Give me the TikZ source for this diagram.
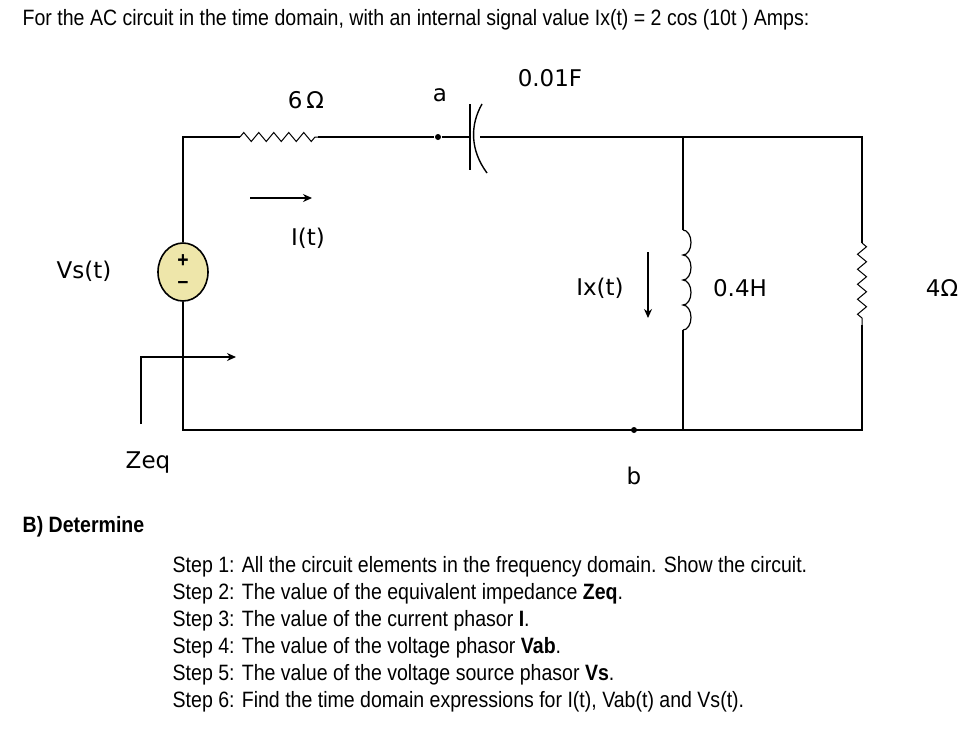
\documentclass[tikz,border=0pt]{standalone}
\usepackage{fontspec}
\setmainfont{Liberation Sans}[FakeStretch=0.88]
\newfontfamily\lblfont{DejaVu Sans}
\usetikzlibrary{decorations.pathmorphing,arrows.meta,shapes.geometric}
\begin{document}
\begin{tikzpicture}[x=1pt,y=-1pt,line width=1.4pt,
  lbl/.style={font=\lblfont\fontsize{23}{24}\selectfont,inner sep=0},
  txt/.style={font=\fontsize{22.2}{27}\selectfont,anchor=west,inner sep=0},
  zz/.style={decorate,decoration={zigzag,segment length=15pt,amplitude=4.5pt}},
  arr/.style={line width=1.4pt,-{Stealth[length=9pt,width=8pt]}},
  dot/.style={circle,fill=black,inner sep=0,minimum size=6pt}]
\useasboundingbox (0,0) rectangle (968,734);
\fill[white] (0,0) rectangle (968,734);
\node[txt] (title) at (22,20) {For the AC circuit in the time domain, with an internal signal value Ix(t) = 2 cos (10t ) Amps:};
% coordinates
\coordinate (tl) at (183,137);
\coordinate (bl) at (183,430);
\coordinate (tm) at (683,137);
\coordinate (bm) at (683,430);
\coordinate (tr) at (862,137);
\coordinate (br) at (862,430);
\coordinate (r2a) at (862,243);
\coordinate (r2b) at (862,325);
\coordinate (r1a) at (240,137);
\coordinate (r1b) at (318,137);
\node[dot] (a) at (438,137) {};
\node[dot] (b) at (634,430) {};
\coordinate (c1) at (470,137);
\coordinate (c2) at (480,137);
\node[draw,ellipse,fill={rgb,255:red,238;green,230;blue,170},line width=1.6pt,minimum width=50pt,minimum height=58pt,inner sep=0] (vs) at (183,272) {};
\node[font=\fontsize{22}{22}\selectfont\bfseries] (plus) at (183,261) {+};
\node[font=\fontsize{22}{22}\selectfont\bfseries] (minus) at (183,285) {--};
% wires
\draw (vs.north) -- (tl) -- (r1a);
\draw[zz,line width=1pt] (r1a) -- (r1b);
\draw (r1b) -- (a) -- (c1);
\draw (470,104) -- (470,170);
\draw (c2) -- (tr) -- (r2a);
\draw (482,104) .. controls (470,125) and (470,150) .. (487,173);
\draw[zz,line width=1pt] (r2a) -- (r2b);
\draw (r2b) -- (br) -- (bl) -- (vs.south);
\draw (tm) -- (683,230);
\draw (683,330) -- (bm);
\draw[line width=1.2pt] (683,230) arc (-90:90:8 and 12.5) arc (-90:90:8 and 12.5) arc (-90:90:8 and 12.5) arc (-90:90:8 and 12.5);
% arrows
\coordinate (ia) at (250,198); \coordinate (ib) at (312,198);
\draw[arr] (ia) -- (ib);
\coordinate (xa) at (648,252); \coordinate (xb) at (648,318);
\draw[arr] (xa) -- (xb);
\coordinate (z0) at (141,424); \coordinate (z1) at (141,357); \coordinate (z2) at (236,357);
\draw[arr] (z0) -- (z1) -- (z2);
% labels
\node[lbl] (l6) at (306,100) {6\,Ω};
\node[lbl] (la) at (440,95) {a};
\node[lbl] (lc) at (550,78) {0.01F};
\node[lbl] (lI) at (308,238) {I(t)};
\node[lbl] (lvs) at (84,271) {Vs(t)};
\node[lbl] (lix) at (600,288) {Ix(t)};
\node[lbl] (lL) at (740,288) {0.4H};
\node[lbl] (lR) at (942,288) {4Ω};
\node[lbl] (lz) at (148,462) {Zeq};
\node[lbl] (lb) at (634,476) {b};
% text
\node[txt] (bd) at (22,527) {\bfseries B) Determine};
\node[txt,align=left,anchor=north west] (steps) at (172,556) {Step 1: All the circuit elements in the frequency domain. Show the circuit.\\
Step 2: The value of the equivalent impedance \textbf{Zeq}.\\
Step 3: The value of the current phasor \textbf{I}.\\
Step 4: The value of the voltage phasor \textbf{Vab}.\\
Step 5: The value of the voltage source phasor \textbf{Vs}.\\
Step 6: Find the time domain expressions for I(t), Vab(t) and Vs(t).};
\end{tikzpicture}
\end{document}
